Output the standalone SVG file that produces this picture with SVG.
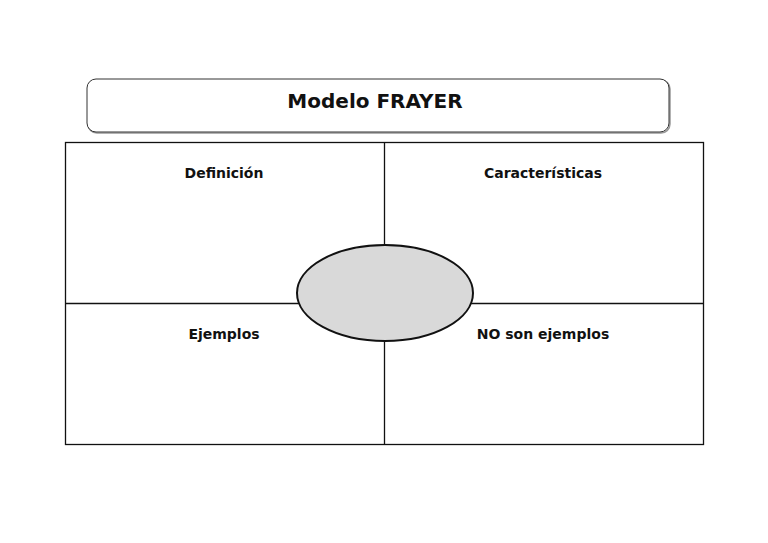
<svg xmlns="http://www.w3.org/2000/svg" width="768" height="543" viewBox="0 0 768 543">
<style>
.lbl{font-family:"DejaVu Sans","Liberation Sans",sans-serif;font-weight:bold;font-size:14px;fill:#111;text-anchor:middle}
.ttl{font-family:"DejaVu Sans","Liberation Sans",sans-serif;font-weight:bold;font-size:20px;fill:#111;text-anchor:middle}
.ln{stroke:#111;stroke-width:1.3;fill:none}
</style>
<rect width="768" height="543" fill="#fff"/>
<g id="title">
<rect x="88" y="80" width="582" height="53" rx="9" fill="#fff" stroke="#999" stroke-width="1.5"/>
<rect x="87" y="79" width="582" height="53" rx="9" fill="#fff" stroke="#333" stroke-width="1"/>
<text class="ttl" x="375" y="108">Modelo FRAYER</text>
</g>
<g id="connectors">
<rect class="ln" x="65.5" y="142.5" width="638" height="302"/>
<line class="ln" x1="384.5" y1="142.5" x2="384.5" y2="444.5"/>
<line class="ln" x1="65.5" y1="303.5" x2="703.5" y2="303.5"/>
</g>
<g id="definicion"><text class="lbl" x="224" y="178">Definición</text></g>
<g id="caracteristicas"><text class="lbl" x="543" y="178">Características</text></g>
<g id="ejemplos"><text class="lbl" x="224" y="339">Ejemplos</text></g>
<g id="no-ejemplos"><text class="lbl" x="543" y="339">NO son ejemplos</text></g>
<g id="centro"><ellipse cx="385" cy="293" rx="88" ry="48" fill="#d9d9d9" stroke="#111" stroke-width="2"/></g>
</svg>
